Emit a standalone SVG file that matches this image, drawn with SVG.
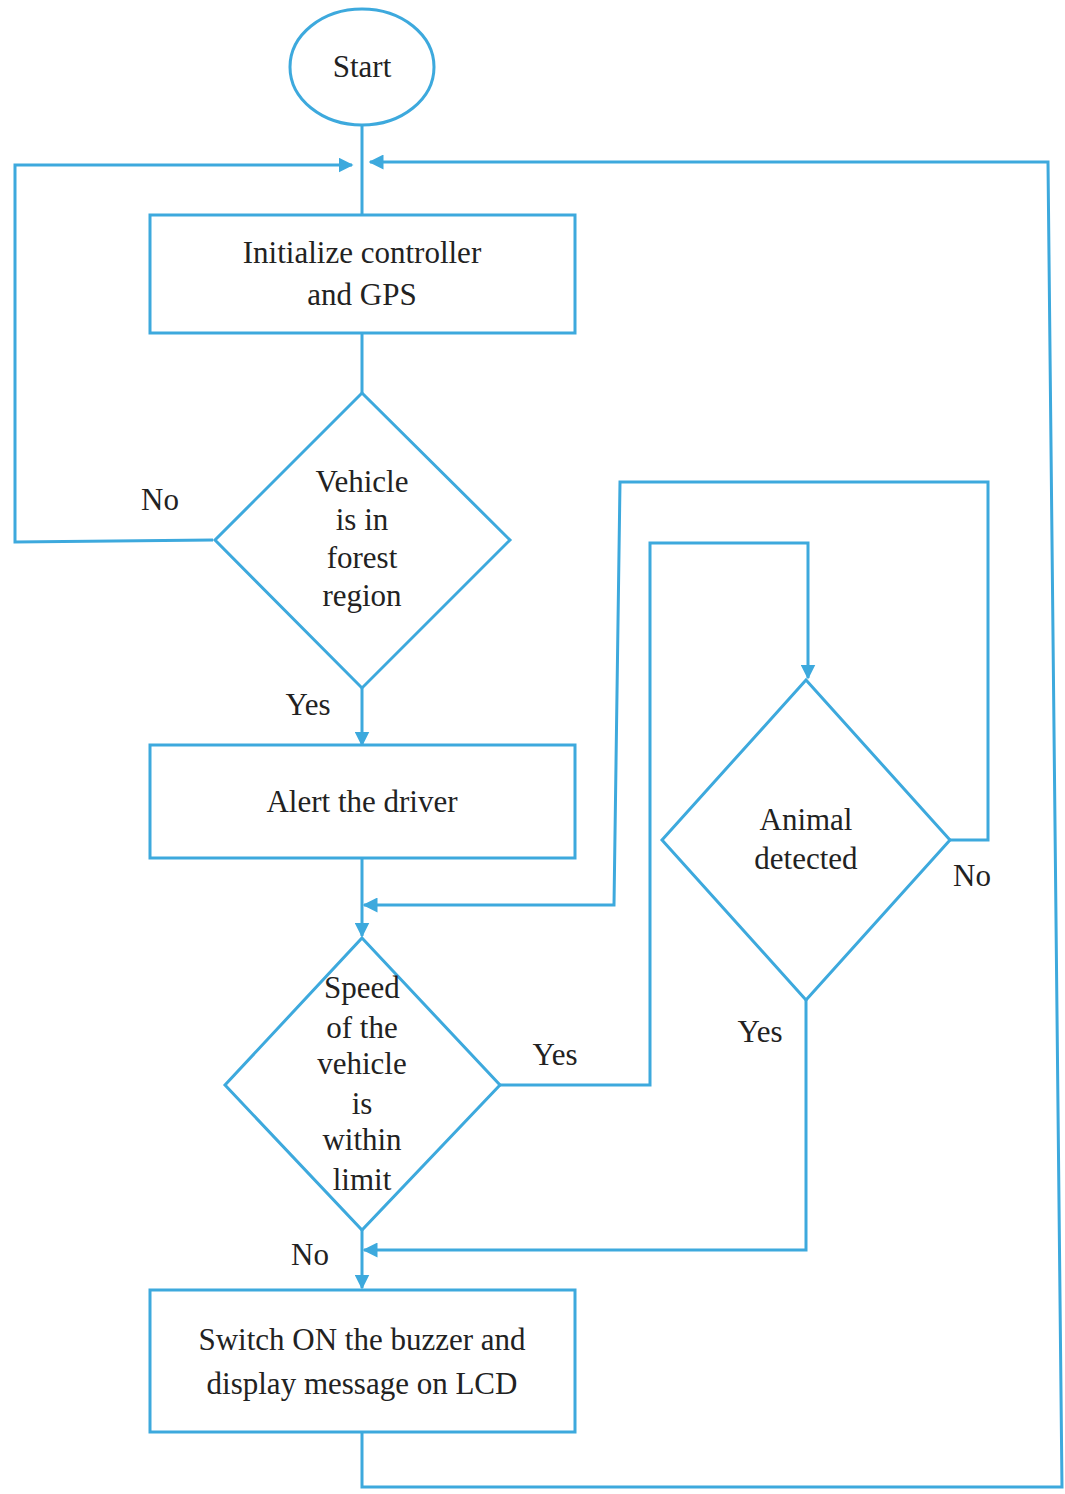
<svg xmlns="http://www.w3.org/2000/svg" width="1065" height="1494" viewBox="0 0 1065 1494">
<style>
.s{fill:#fff;stroke:#3da9dd;stroke-width:3}
.c{fill:none;stroke:#3da9dd;stroke-width:3}
.t{font-family:'Liberation Serif','Times New Roman','DejaVu Serif',serif;font-size:31px;fill:#222;text-anchor:middle}
</style>
<defs><marker id="a" viewBox="0 0 10 10" refX="9" refY="5" markerWidth="5" markerHeight="5" orient="auto"><path d="M0,0L10,5L0,10z" fill="#3da9dd"/></marker></defs>
<rect width="1065" height="1494" fill="#fff"/>
<g id="connectors">
<path class="c" d="M362,125V215"/>
<path class="c" d="M213,540L15,542V165H352" marker-end="url(#a)"/>
<path class="c" d="M362,1432V1487H1062L1048,162H370" marker-end="url(#a)"/>
<path class="c" d="M362,333V393"/>
<path class="c" d="M362,688V745" marker-end="url(#a)"/>
<path class="c" d="M362,858V936" marker-end="url(#a)"/>
<path class="c" d="M500,1085H650V543H808V678" marker-end="url(#a)"/>
<path class="c" d="M950,840H988V482H620L614,905H364" marker-end="url(#a)"/>
<path class="c" d="M806,1000V1250H364" marker-end="url(#a)"/>
<path class="c" d="M362,1230V1288" marker-end="url(#a)"/>
</g>
<g id="start"><ellipse class="s" cx="362" cy="67" rx="72" ry="58"/><text class="t" x="362" y="77">Start</text></g>
<g id="init"><rect class="s" x="150" y="215" width="425" height="118"/><text class="t" x="362" y="263">Initialize controller</text><text class="t" x="362" y="305">and GPS</text></g>
<g id="forest"><path class="s" d="M362,393L510,540L362,688L215,540z"/><text class="t" x="362" y="492">Vehicle</text><text class="t" x="362" y="530">is in</text><text class="t" x="362" y="568">forest</text><text class="t" x="362" y="606">region</text></g>
<g id="alert"><rect class="s" x="150" y="745" width="425" height="113"/><text class="t" x="362" y="812">Alert the driver</text></g>
<g id="speed"><path class="s" d="M362,938L500,1085L362,1230L225,1085z"/><text class="t" x="362" y="998">Speed</text><text class="t" x="362" y="1038">of the</text><text class="t" x="362" y="1074">vehicle</text><text class="t" x="362" y="1114">is</text><text class="t" x="362" y="1150">within</text><text class="t" x="362" y="1190">limit</text></g>
<g id="animal"><path class="s" d="M806,680L950,840L806,1000L662,840z"/><text class="t" x="806" y="830">Animal</text><text class="t" x="806" y="869">detected</text></g>
<g id="buzzer"><rect class="s" x="150" y="1290" width="425" height="142"/><text class="t" x="362" y="1350">Switch ON the buzzer and</text><text class="t" x="362" y="1394">display message on LCD</text></g>
<g id="labels"><text class="t" x="160" y="510">No</text><text class="t" x="308" y="715">Yes</text><text class="t" x="555" y="1065">Yes</text><text class="t" x="310" y="1265">No</text><text class="t" x="760" y="1042">Yes</text><text class="t" x="972" y="886">No</text></g>
</svg>
